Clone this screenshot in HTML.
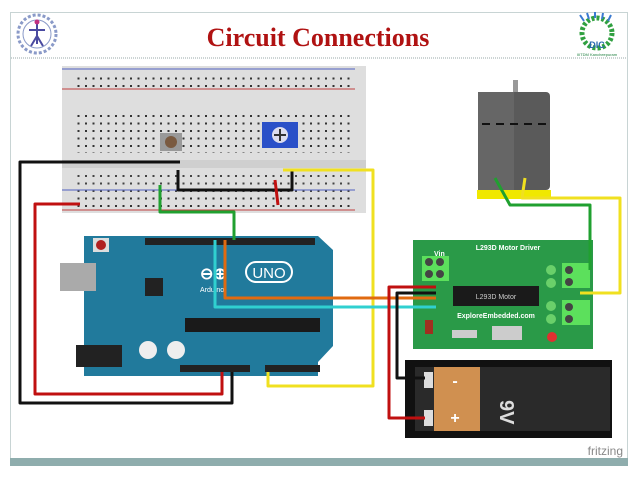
<!DOCTYPE html>
<html><head><meta charset="utf-8"><style>
html,body{margin:0;padding:0;background:#fff;width:638px;height:478px;overflow:hidden}
svg{display:block}
</style></head><body>
<svg width="638" height="478" viewBox="0 0 638 478" xmlns="http://www.w3.org/2000/svg" font-family="Liberation Sans, sans-serif">
<defs>
<pattern id="holes" x="0" y="0" width="7.5" height="7.5" patternUnits="userSpaceOnUse"><rect x="2.5" y="2.5" width="2" height="2" fill="#333"/></pattern>
</defs>
<rect width="638" height="478" fill="#fff"/>
<rect x="10.5" y="12.5" width="617" height="452" fill="none" stroke="#c8d4d4"/>
<line x1="11" y1="58" x2="627" y2="58" stroke="#9aaaaa" stroke-dasharray="1,1"/>
<rect x="10" y="458" width="618" height="8" fill="#8fadad"/>
<text x="318" y="46" text-anchor="middle" font-family="Liberation Serif, serif" font-weight="bold" font-size="26" fill="#b01212">Circuit Connections</text>
<!-- left logo -->
<circle cx="37" cy="34" r="19" fill="none" stroke="#8a9ac8" stroke-width="3" stroke-dasharray="3,2"/>
<circle cx="37" cy="34" r="14" fill="none" stroke="#8a9ac8" stroke-width="1"/>
<path d="M37 24 L37 44 M29 30 L45 30 M31 46 L37 36 L43 46" stroke="#4a4aa0" stroke-width="2" fill="none"/>
<circle cx="37" cy="22" r="2.5" fill="#c03080"/>
<!-- right logo -->
<circle cx="597" cy="33" r="15" fill="none" stroke="#30a040" stroke-width="5" stroke-dasharray="3,2"/>
<text x="597" y="48" text-anchor="middle" font-size="9" font-weight="bold" fill="#2a6ab0">DIC</text>
<path d="M580 15 l4 6 M587 13 l2 6 M595 12 l0 6 M603 13 l-1 6 M611 15 l-3 6" stroke="#3a7ad0" stroke-width="2"/>
<text x="597" y="56" text-anchor="middle" font-size="4" fill="#208040">IIITDM Kancheepuram</text>
<!-- breadboard -->
<rect x="62" y="66" width="304" height="147" fill="#dedede"/>
<line x1="62" y1="69" x2="355" y2="69" stroke="#5060c0"/>
<line x1="62" y1="89" x2="355" y2="89" stroke="#c04040"/>
<rect x="77" y="72" width="275" height="15" fill="url(#holes)"/>
<rect x="75" y="115" width="277" height="38" fill="url(#holes)"/>
<rect x="62" y="160" width="304" height="8" fill="#cfcfcf"/>
<rect x="75" y="173" width="277" height="38" fill="url(#holes)" opacity="0.9"/>
<line x1="62" y1="190" x2="355" y2="190" stroke="#5060c0"/>
<line x1="62" y1="210" x2="355" y2="210" stroke="#c04040"/>
<rect x="77" y="193" width="275" height="15" fill="url(#holes)"/>
<rect x="160" y="133" width="22" height="18" fill="#999"/>
<circle cx="171" cy="142" r="6" fill="#7a5a40"/>
<rect x="262" y="122" width="36" height="26" fill="#2a50c8"/>
<circle cx="280" cy="135" r="8" fill="#dde"/>
<path d="M274 135h12M280 129v12" stroke="#333" stroke-width="2"/>
<!-- motor -->
<rect x="513" y="80" width="5" height="14" fill="#999"/>
<rect x="478" y="92" width="72" height="98" rx="4" fill="#5a5a5a"/>
<rect x="478" y="92" width="36" height="98" fill="#666"/>
<path d="M482 124h8M496 124h8M510 124h8M524 124h8M538 124h8" stroke="#111" stroke-width="2"/>
<rect x="477" y="190" width="74" height="9" fill="#f0e800"/>
<!-- arduino -->
<path d="M84 236 H318 L333 250 V346 L318 362 V376 H84 Z" fill="#217a9c"/>
<rect x="60" y="263" width="36" height="28" fill="#aaa"/>
<rect x="76" y="345" width="46" height="22" fill="#222"/>
<circle cx="148" cy="350" r="9" fill="#eee"/><circle cx="176" cy="350" r="9" fill="#eee"/>
<rect x="185" y="318" width="135" height="14" fill="#1a1a1a"/>
<rect x="145" y="278" width="18" height="18" fill="#222"/>
<rect x="145" y="238" width="170" height="7" fill="#222"/>
<rect x="180" y="365" width="70" height="7" fill="#222"/>
<rect x="265" y="365" width="55" height="7" fill="#222"/>
<rect x="93" y="238" width="16" height="14" fill="#ddd"/><circle cx="101" cy="245" r="5" fill="#b02020"/>
<text x="200" y="279" font-size="16" fill="#fff" font-weight="bold">⊖⊕</text>
<rect x="246" y="262" width="46" height="20" rx="10" fill="none" stroke="#fff" stroke-width="2"/>
<text x="269" y="278" text-anchor="middle" font-size="15" fill="#fff">UNO</text>
<text x="200" y="292" font-size="7" fill="#fff">Arduino</text>
<!-- driver -->
<rect x="413" y="240" width="180" height="109" fill="#2a9a48"/>
<text x="508" y="250" text-anchor="middle" font-size="7" font-weight="bold" fill="#fff">L293D Motor Driver</text>
<text x="434" y="256" font-size="7" font-weight="bold" fill="#fff">Vin</text>
<rect x="422" y="256" width="27" height="25" fill="#5ce05c"/>
<circle cx="429" cy="262" r="4" fill="#444"/><circle cx="440" cy="262" r="4" fill="#444"/>
<circle cx="429" cy="274" r="4" fill="#444"/><circle cx="440" cy="274" r="4" fill="#444"/>
<rect x="453" y="286" width="86" height="20" fill="#1a1a1a"/>
<text x="496" y="299" text-anchor="middle" font-size="7" fill="#ccc">L293D Motor</text>
<text x="496" y="318" text-anchor="middle" font-size="7" font-weight="bold" fill="#fff">ExploreEmbedded.com</text>
<rect x="562" y="263" width="28" height="25" fill="#5ce05c"/>
<rect x="562" y="300" width="28" height="25" fill="#5ce05c"/>
<circle cx="569" cy="270" r="4" fill="#444"/><circle cx="569" cy="282" r="4" fill="#444"/>
<circle cx="569" cy="307" r="4" fill="#444"/><circle cx="569" cy="319" r="4" fill="#444"/>
<circle cx="551" cy="270" r="5" fill="#6ad06a"/><circle cx="551" cy="283" r="5" fill="#6ad06a"/>
<circle cx="551" cy="306" r="5" fill="#6ad06a"/><circle cx="551" cy="319" r="5" fill="#6ad06a"/>
<circle cx="552" cy="337" r="5" fill="#e03030"/>
<rect x="452" y="330" width="25" height="8" fill="#ccc"/><rect x="492" y="326" width="30" height="14" fill="#ccc"/>
<rect x="425" y="320" width="8" height="14" fill="#a03020"/>
<!-- battery -->
<rect x="405" y="360" width="207" height="78" fill="#111"/>
<rect x="415" y="367" width="195" height="64" fill="#2a2a2a"/>
<rect x="434" y="367" width="46" height="64" fill="#d09050"/>
<text x="455" y="386" text-anchor="middle" font-size="16" font-weight="bold" fill="#fff">-</text>
<text x="455" y="423" text-anchor="middle" font-size="16" font-weight="bold" fill="#fff">+</text>
<text x="500" y="400" font-size="20" font-weight="bold" fill="#ddd" transform="rotate(90 500 400)">9V</text>
<rect x="424" y="372" width="9" height="16" fill="#ddd"/><rect x="424" y="410" width="9" height="16" fill="#ddd"/>
<text x="623" y="455" text-anchor="end" font-size="12" fill="#888">fritzing</text>
<!-- wires -->
<g fill="none" stroke-width="3" stroke-linejoin="round">
<polyline points="180,162 20,162 20,403 232,403 232,372" stroke="#111"/>
<polyline points="80,204 35,204 35,394 222,394 222,372" stroke="#c01010"/>
<polyline points="160,185 160,212 234,212 234,240" stroke="#20a030"/>
<polyline points="178,170 178,190 292,190 292,170" stroke="#111"/>
<polyline points="275,180 278,205" stroke="#c01010"/>
<polyline points="283,170 373,170 373,386 268,386 268,372" stroke="#f0e020"/>
<polyline points="495,178 510,205 590,205 590,270" stroke="#20a030"/>
<polyline points="525,178 522,198 620,198 620,293 580,293" stroke="#f0e020"/>
<polyline points="225,240 225,298 436,298" stroke="#e06a10"/>
<polyline points="215,240 215,307 436,307" stroke="#30d0d0"/>
<polyline points="436,287 389,287 389,418 425,418" stroke="#c01010"/>
<polyline points="436,293 397,293 397,378 425,378" stroke="#111"/>
</g>
</svg>
</body></html>
